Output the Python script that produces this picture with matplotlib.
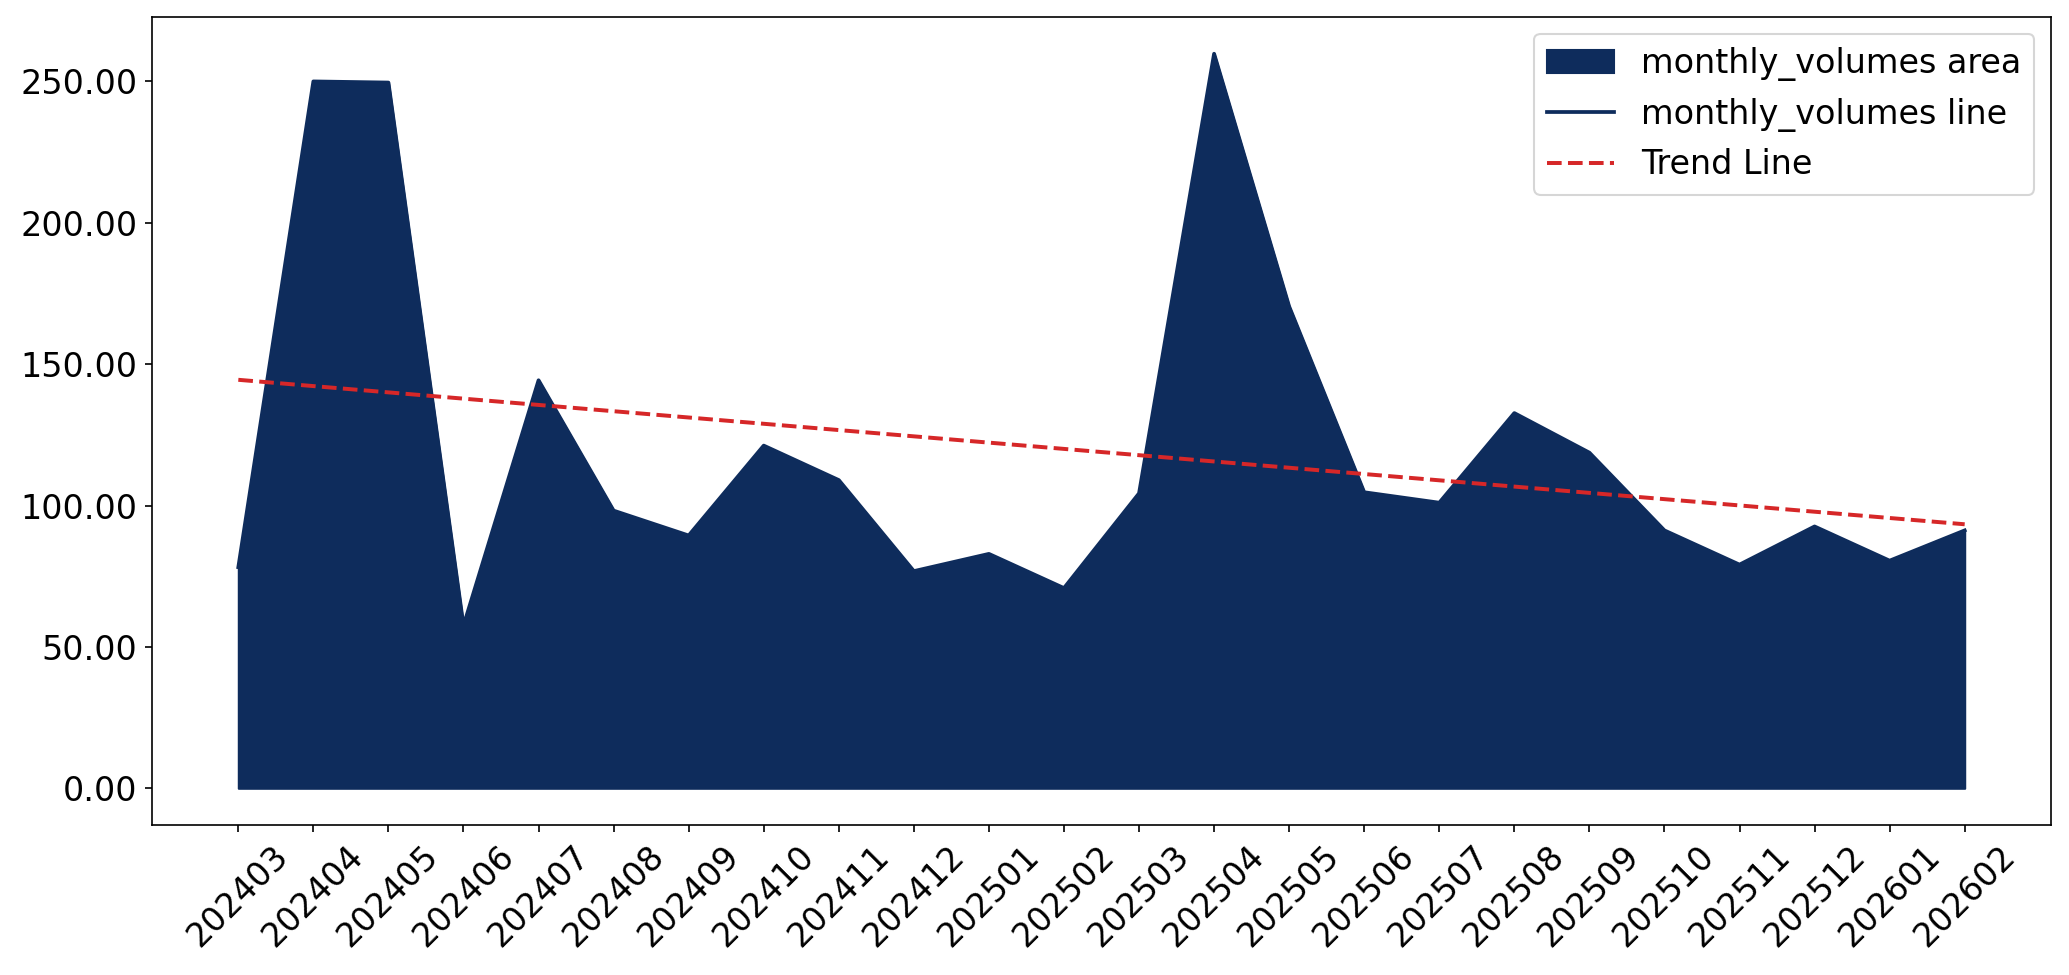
import numpy as np
import matplotlib
matplotlib.use("Agg")
import matplotlib.pyplot as plt
from matplotlib.ticker import FormatStrFormatter

months = ["202403", "202404", "202405", "202406", "202407", "202408", "202409", "202410",
          "202411", "202412", "202501", "202502", "202503", "202504", "202505", "202506",
          "202507", "202508", "202509", "202510", "202511", "202512", "202601", "202602"]
monthly_volumes = [78.2, 250.0, 249.6, 57.5, 144.3, 98.2, 89.4, 121.2,
                   109.0, 76.8, 82.9, 70.8, 104.3, 259.8, 170.4, 104.7,
                   101.0, 132.7, 118.7, 91.2, 79.1, 92.6, 80.5, 91.2]

navy = "#0e2c5c"
fig = plt.figure(figsize=(2069/150, 975/150), dpi=150)
ax = fig.add_axes([152/2069, 1 - 825/975, (2051-152)/2069, (825-17)/975])

x = np.arange(len(months))
y = np.array(monthly_volumes)
ax.fill_between(x, y, color=navy, label="monthly_volumes area")
ax.plot(x, y, color=navy, linewidth=1.8, label="monthly_volumes line")
coef = np.polyfit(x, y, 1)
ax.plot(x, np.polyval(coef, x), "--", color="#d62728", linewidth=1.9, label="Trend Line")

ax.set_xticks(x)
ax.set_xticklabels(months, rotation=45, fontsize=16)
ax.tick_params(axis="y", labelsize=16)
ax.yaxis.set_major_formatter(FormatStrFormatter("%.2f"))
ax.set_yticks([0, 50, 100, 150, 200, 250])
ax.legend(loc="upper right", fontsize=16)

fig.savefig("out.png", dpi=150)
